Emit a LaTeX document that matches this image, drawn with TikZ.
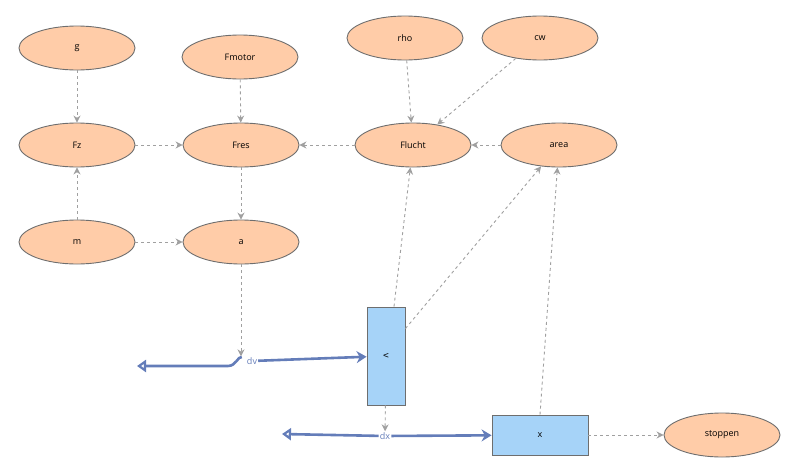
\documentclass[tikz,border=0pt]{standalone}
\usepackage{fontspec}
\setmainfont{Open Sans}
\usetikzlibrary{shapes.geometric,arrows.meta}
\definecolor{ellf}{RGB}{255,204,168}
\definecolor{edg}{RGB}{110,110,110}
\definecolor{rectf}{RGB}{166,211,248}
\definecolor{flow}{RGB}{100,125,185}
\definecolor{dashc}{RGB}{160,160,160}
\begin{document}
\begin{tikzpicture}[x=1pt,y=-1pt,
  var/.style={ellipse,draw=edg,line width=0.9pt,fill=ellf,minimum width=116pt,minimum height=44pt,font=\small},
  box/.style={rectangle,draw=edg,line width=0.9pt,fill=rectf,font=\small},
  dep/.style={draw=dashc,dashed,line width=0.9pt,-{Stealth[length=7pt,width=7pt]}},
  fl/.style={draw=flow,line width=2.6pt,-{Stealth[length=10pt,width=12pt]}},
  src/.style={draw=flow,line width=2.6pt,-{Triangle[open,length=9pt,width=12pt]}},
  lab/.style={text=flow,font=\small,inner sep=1pt}]
\useasboundingbox (0,0) rectangle (800,471);
\node[var] (g) at (77,48) {g};
\node[var] (Fmotor) at (240,57) {Fmotor};
\node[var] (rho) at (405,38) {rho};
\node[var] (cw) at (540,38) {cw};
\node[var] (Fz) at (77,145) {Fz};
\node[var] (Fres) at (241,145) {Fres};
\node[var] (Flucht) at (413,145) {Flucht};
\node[var] (area) at (559,145) {area};
\node[var] (m) at (77,242) {m};
\node[var] (a) at (241,242) {a};
\node[var] (stoppen) at (722,435) {stoppen};
\node[box,minimum width=38pt,minimum height=98pt] (v) at (386,356) {\rotatebox{-90}{v}};
\node[box,minimum width=96pt,minimum height=40pt] (x) at (540,435) {x};
\node[lab] (dv) at (252,361) {dv};
\node[lab] (dx) at (385,436) {dx};
\coordinate (dvs) at (137,366);
\coordinate (dxs) at (282,434);
\draw[dep] (g) -- (Fz);
\draw[dep] (Fmotor) -- (Fres);
\draw[dep] (rho) -- (Flucht);
\draw[dep] (cw) -- (Flucht);
\draw[dep] (Fz) -- (Fres);
\draw[dep] (Flucht) -- (Fres);
\draw[dep] (area) -- (Flucht);
\draw[dep] (m) -- (Fz);
\draw[dep] (m) -- (a);
\draw[dep] (Fres) -- (a);
\draw[dep] (a) -- (dv.north -| a);
\draw[dep] (v.north) ++(8,0) -- (Flucht);
\draw[dep] (v.north east) ++(0,22) -- (area);
\draw[dep] (x.north) -- (area);
\draw[dep] (v) -- (dx);
\draw[dep] (x) -- (stoppen);
\draw[src] (dv.west) ++(-4,-4) .. controls (238,356) and (236,366) .. (228,366) -- (dvs);
\draw[fl] (dv) -- (v);
\draw[src] (dx) -- (dxs);
\draw[fl] (dx) -- (x);
\end{tikzpicture}
\end{document}
